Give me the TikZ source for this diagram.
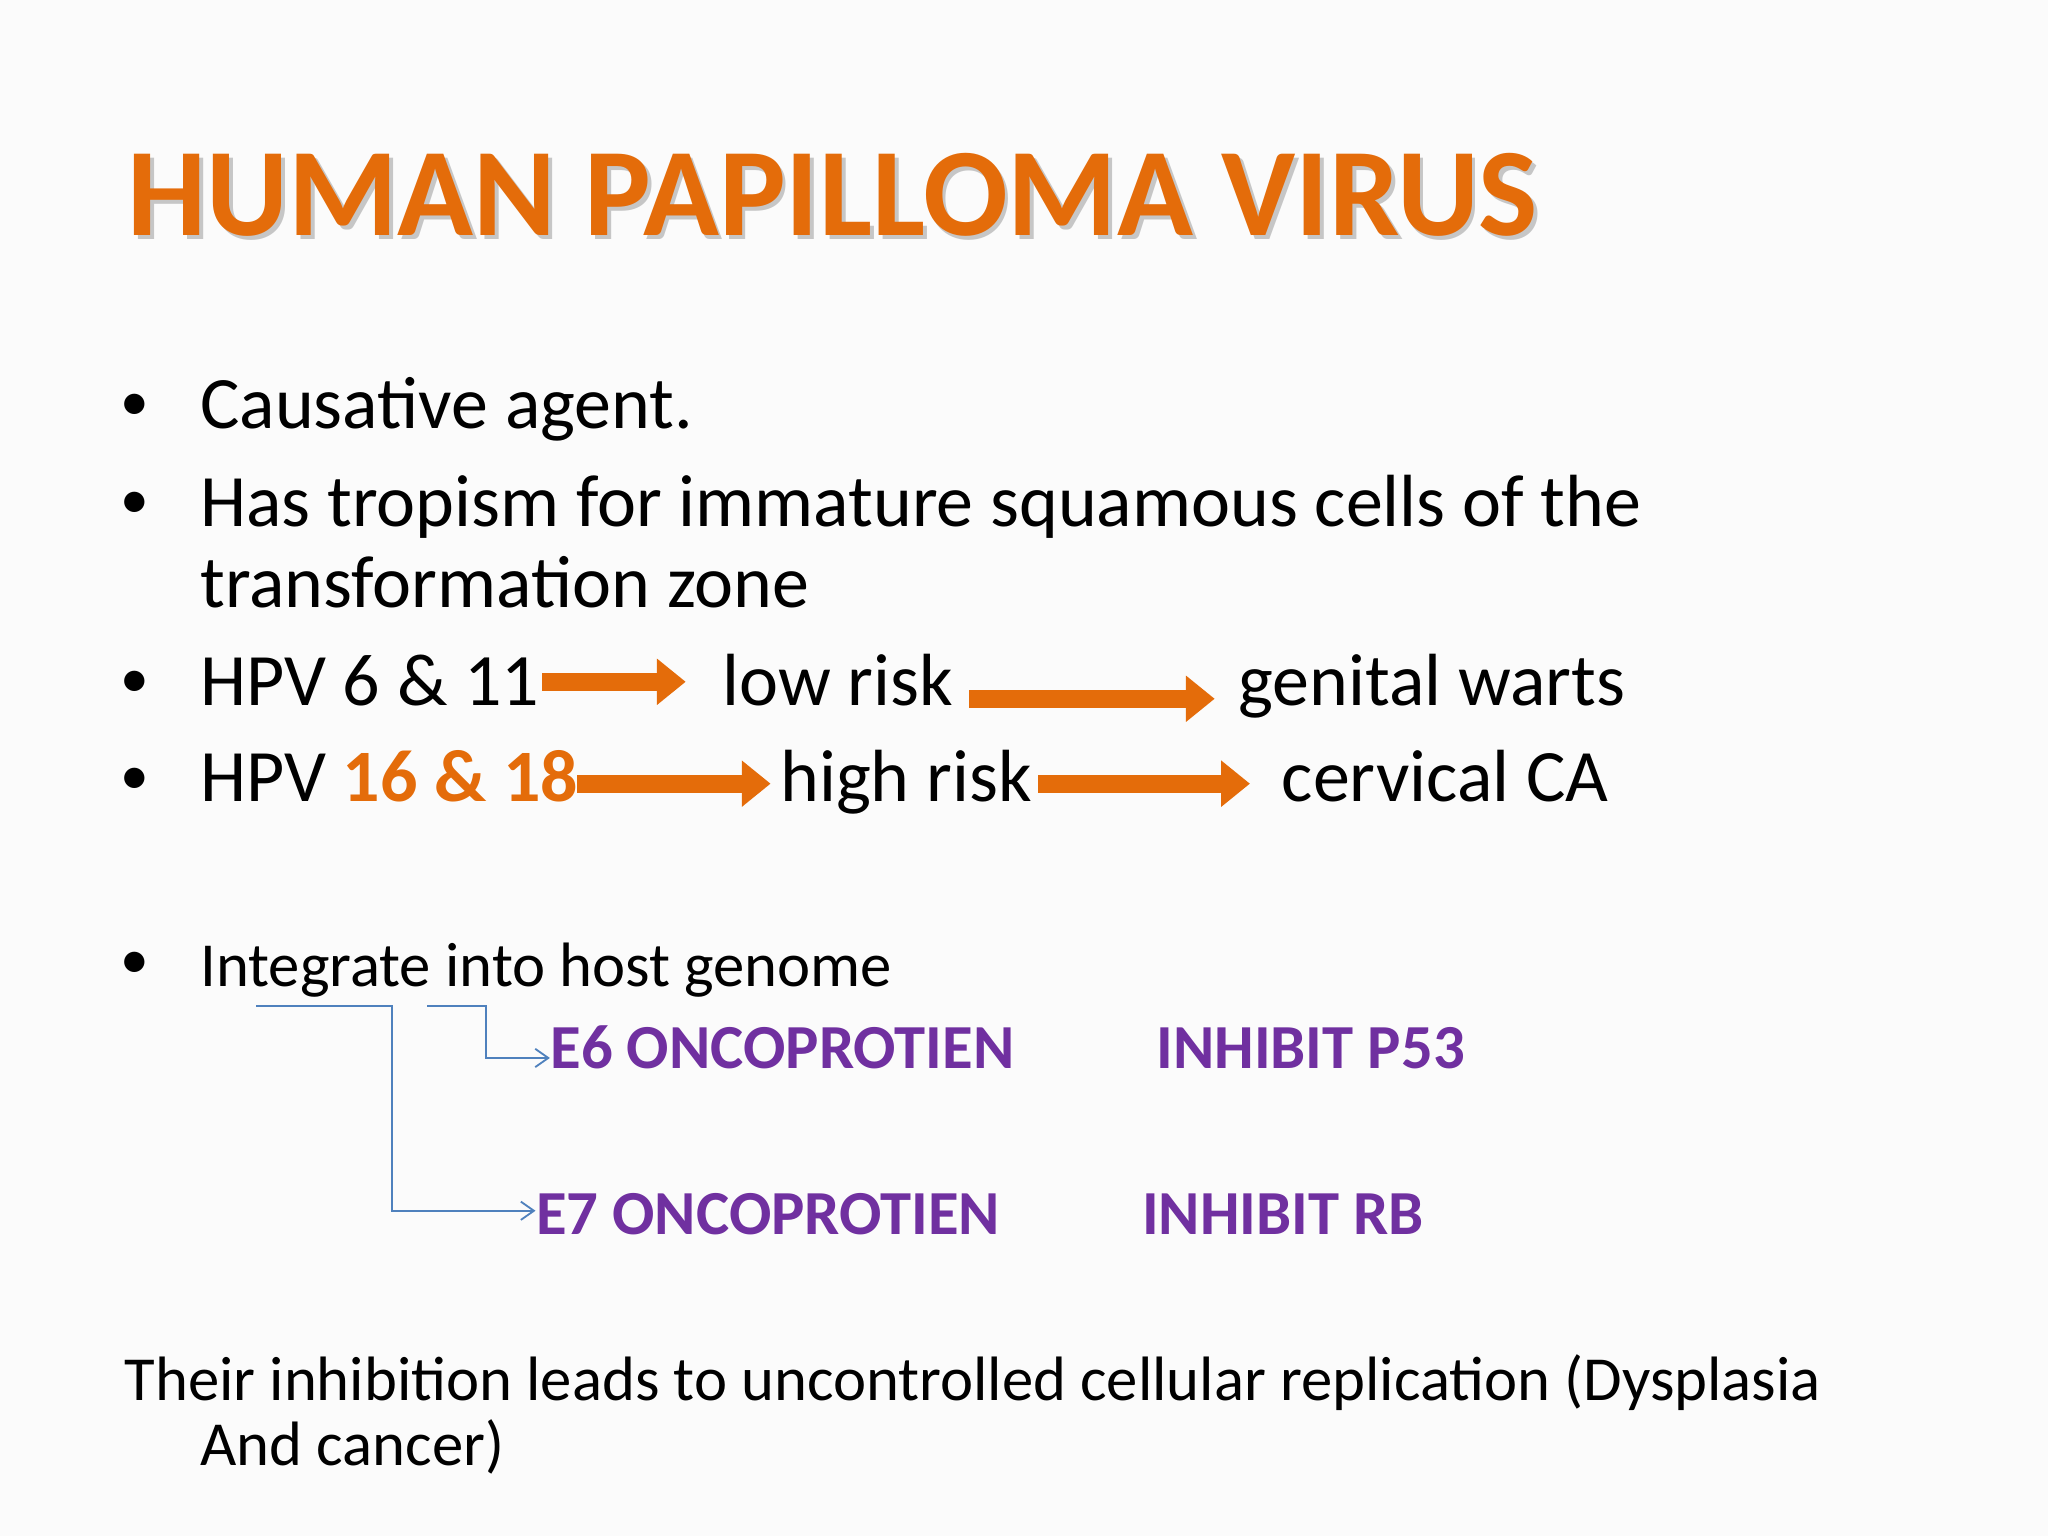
\documentclass[tikz,border=0pt]{standalone}
\usepackage{fontspec}
\setmainfont{Carlito}
\usetikzlibrary{arrows.meta}
\definecolor{org}{HTML}{E46C0A}
\definecolor{pur}{HTML}{7030A0}
\definecolor{blu}{HTML}{4F81BD}
\tikzset{
  body/.style={anchor=base west,inner sep=0pt,font=\fontsize{28.3}{34}\selectfont},
  small/.style={anchor=base west,inner sep=0pt,font=\fontsize{24}{29}\selectfont},
  purp/.style={anchor=base west,inner sep=0pt,font=\fontsize{24}{29}\selectfont\bfseries,text=pur},
  bul/.style={anchor=base,inner sep=0pt,font=\fontsize{22}{26}\selectfont},
  blk/.style={draw=org,line width=7pt,-{Triangle[length=11pt,width=17pt]}},
  conn/.style={draw=blu,line width=0.7pt,-{Straight Barb[length=5pt,width=7pt]}}
}
\begin{document}
\begin{tikzpicture}[x=0.5pt,y=-0.5pt]
\fill[white!97!gray] (0,0) rectangle (1568,1176);
\useasboundingbox (0,0) rectangle (1568,1176);
\node[anchor=base west,inner sep=0pt,font=\fontsize{48}{58}\selectfont\bfseries,text=gray!45] at (100,183) {HUMAN PAPILLOMA VIRUS};
\node[anchor=base west,inner sep=0pt,font=\fontsize{48}{58}\selectfont\bfseries,text=org] (title) at (97,180) {HUMAN PAPILLOMA VIRUS};
\foreach \y in {328,403,540,614,755} \node[bul] at (103,\y-6) {•};
\node[body] (l1) at (153,328) {Causative agent.};
\node[body] (l2) at (153,403) {Has tropism for immature squamous cells of the};
\node[body] (l2b) at (153,465) {transformation zone};
\node[body] (h6) at (153,540) {HPV 6 \& 11};
\node[body] (lr) at (553,540) {low risk};
\node[body] (gw) at (948,540) {genital warts};
\node[body] (h16) at (153,614) {HPV};
\node[anchor=base west,inner sep=0pt,font=\fontsize{28.3}{34}\selectfont\bfseries,text=org] (n16) at (262,614) {16 \& 18};
\node[body] (hr) at (597,614) {high risk};
\node[body] (cc) at (981,614) {cervical CA};
\draw[blk] (415,522) -- (525,522);
\draw[blk] (742,535) -- (930,535);
\draw[blk] (442,600) -- (590,600);
\draw[blk] (795,600) -- (957,600);
\node[small] (ig) at (153,755) {Integrate into host genome};
\node[purp] (e6) at (421,818) {E6 ONCOPROTIEN};
\node[purp] (p53) at (885,818) {INHIBIT P53};
\node[purp] (e7) at (410,945) {E7 ONCOPROTIEN};
\node[purp] (rb) at (874,945) {INHIBIT RB};
\coordinate (a1) at (196,770);
\coordinate (a2) at (327,770);
\draw[conn] (a1) -- (300,770) -- (300,927) -- (e7.west|-0,927);
\draw[conn] (a2) -- (372,770) -- (372,810) -- (e6.west|-0,810);
\node[small] (t1) at (95,1072) {Their inhibition leads to uncontrolled cellular replication (Dysplasia};
\node[small] (t2) at (153,1122) {And cancer)};
\end{tikzpicture}
\end{document}
